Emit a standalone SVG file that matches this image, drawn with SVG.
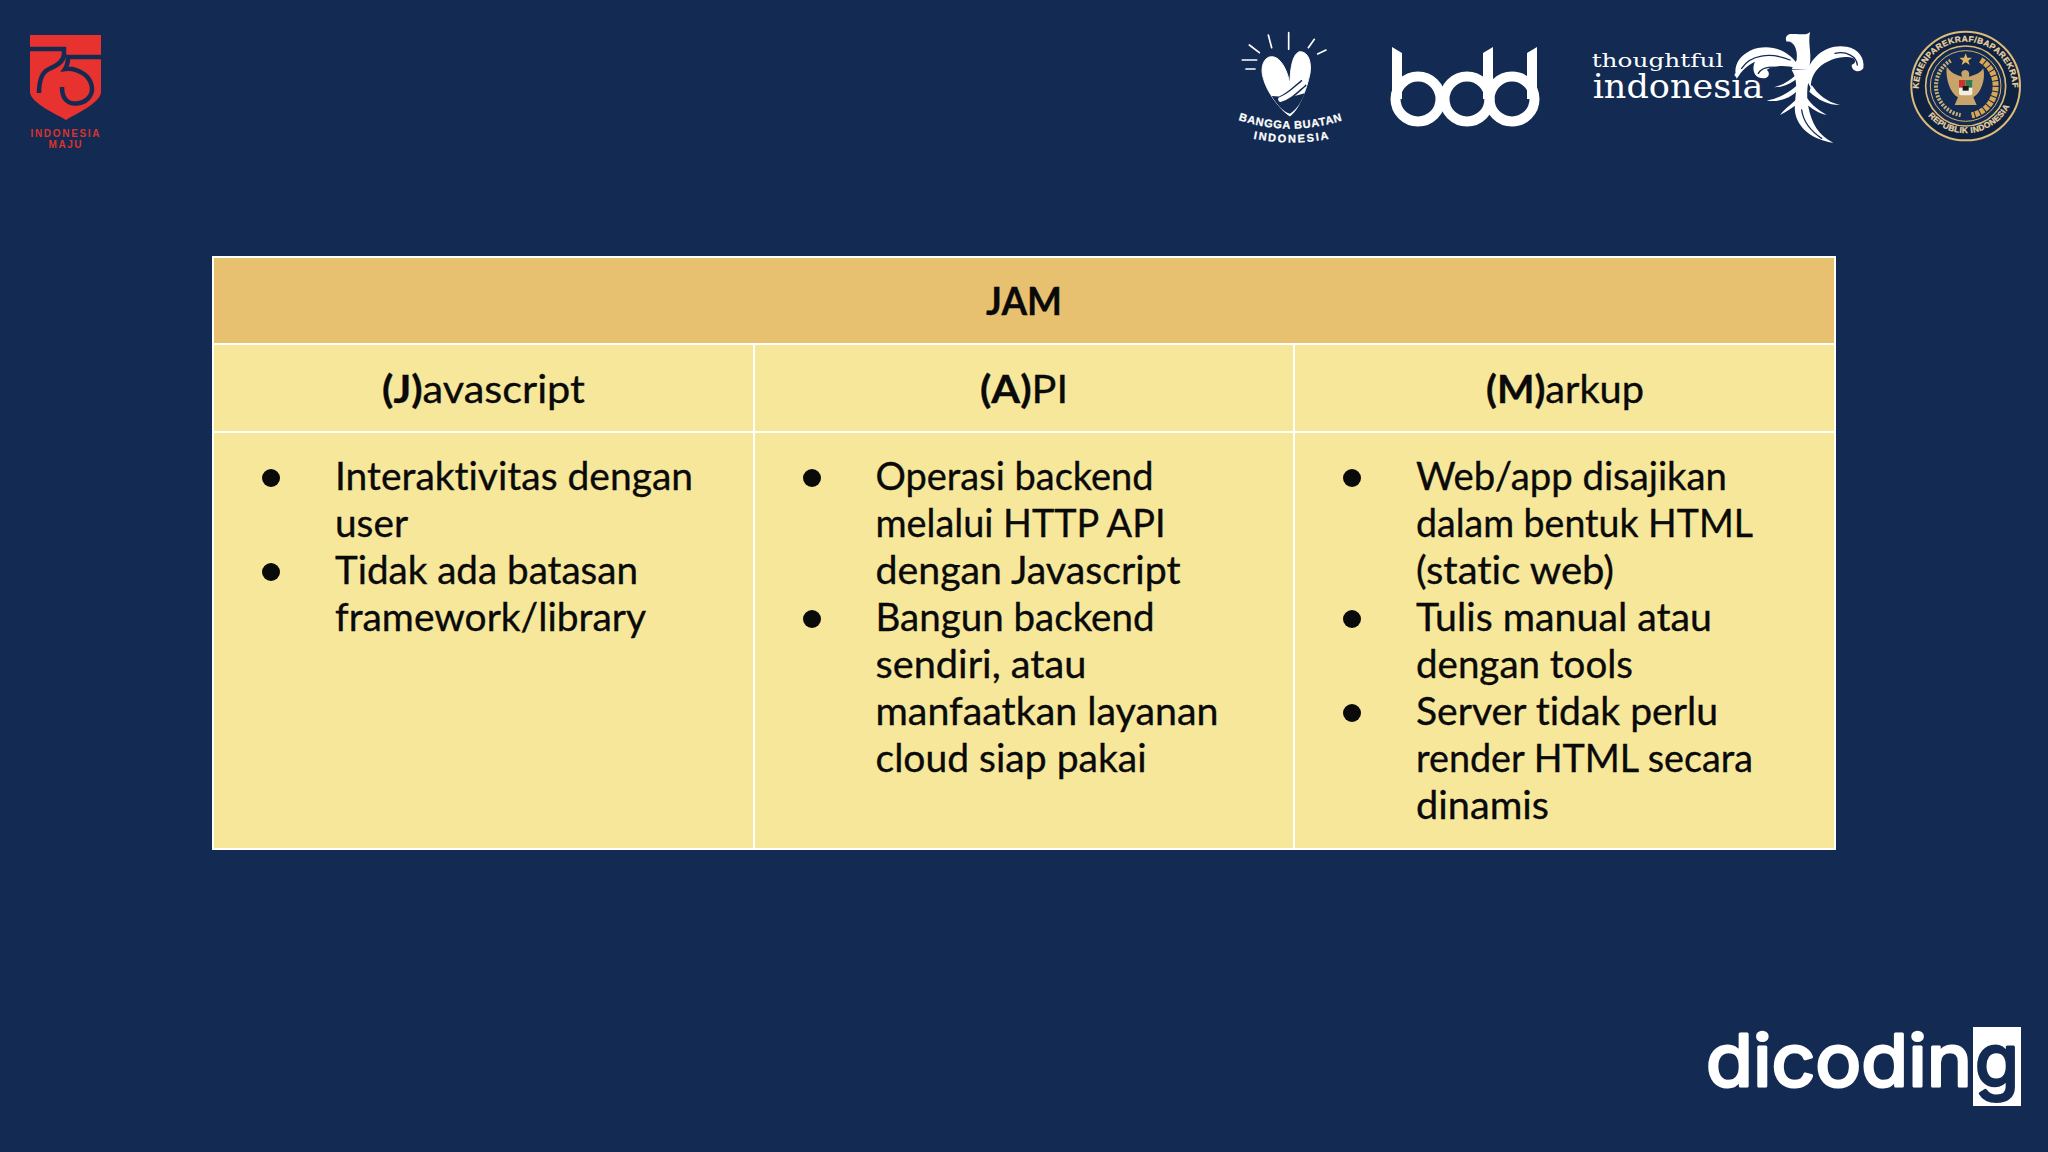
<svg xmlns="http://www.w3.org/2000/svg" xmlns:xlink="http://www.w3.org/1999/xlink" width="2048" height="1152" viewBox="0 0 2048 1152">
<style>
.t{font-family:"Lato","Liberation Sans",sans-serif;font-size:39px;fill:#0a0a0a;stroke:#0a0a0a;stroke-width:.35px;font-variant-ligatures:none}
.b{font-weight:700}
.c{text-anchor:middle}
.dot{fill:#0a0a0a}
.grid{stroke:#fff;stroke-width:2;fill:none}
.w{fill:#fff}
.ray{stroke:#fff;stroke-width:5;stroke-linecap:round;fill:none}
.logo{font-family:"Liberation Sans",sans-serif;font-weight:700}
.gold{fill:none;stroke:#d9b36c}
.dc{font-family:Inter,sans-serif;font-size:72px;stroke-width:3;stroke-linejoin:round}
</style>
<defs>
<path id="arcA" d="M85 330 Q240 382 402 330"/>
<path id="arcB" d="M130 386 Q245 409 358 386"/>
<path id="sealTop" d="M1046 236 A141 141 0 0 1 1328 236"/>
<path id="sealBot" d="M1053 283 A147 147 0 0 0 1321 283"/>
</defs>
<rect width="2048" height="1152" fill="#132A52"/>

<g id="logo-75">
<path d="M30 35H101V92C101 103 72 116 66 120C60 116 30 103 30 92Z" fill="#E8322F"/>
<path d="M30 49H64V54C64 62 56 66 49 69C42 72 39 79 39 93" fill="none" stroke="#132A52" stroke-width="4.500"/>
<path d="M101 57H68C68 62 67 66 65 69C72 68 78 70 84 74C92 80 94 90 90 96C85 104 72 106 66 100C62 96 62 91 62 87" fill="none" stroke="#132A52" stroke-width="4.500"/>
<text class="logo" x="65.500" y="137" text-anchor="middle" font-size="10" letter-spacing="1" fill="#D9332F" textLength="70">INDONESIA</text>
<text class="logo" x="65.500" y="147.500" text-anchor="middle" font-size="10" letter-spacing="1" fill="#D9332F" textLength="34">MAJU</text>
</g>

<g id="logo-bbi" transform="translate(1210 10) scale(.33333)">
<path class="ray" d="M175 75L185 113M236 68V118M313 88L295 113M348 120L323 132M118 105L148 128M97 150H140M108 177H135"/>
<path class="w" stroke="#fff" stroke-width="3" d="M240 225C235 190 215 140 185 140C160 140 150 175 160 205C170 245 210 300 240 318C265 300 290 240 300 190C305 155 295 125 270 125C250 128 240 170 240 225Z"/>
<path d="M185 258C202 288 225 308 240 311C256 301 272 283 284 250L240 262Z" fill="#132A52"/>
<path d="M212 270C235 262 248 248 282 218" fill="none" stroke="#132A52" stroke-width="24"/>
<path d="M212 268C235 262 250 246 280 220" fill="none" stroke="#fff" stroke-width="15" stroke-linecap="round"/>
<text class="logo" font-size="33" fill="#fff" stroke="#fff" stroke-width=".8"><textPath xlink:href="#arcA" href="#arcA" textLength="317">BANGGA BUATAN</textPath></text>
<text class="logo" font-size="33" fill="#fff" stroke="#fff" stroke-width=".8"><textPath xlink:href="#arcB" href="#arcB" textLength="228">INDONESIA</textPath></text>
</g>

<g id="logo-bdd" fill="none" stroke="#fff" stroke-width="10">
<circle cx="1418" cy="99" r="22.500"/>
<circle cx="1467" cy="99" r="22.500"/>
<circle cx="1512" cy="99" r="22.500"/>
<path d="M1392 47L1402 53V99H1392ZM1483 53L1493 47V99H1483ZM1527 53L1537 47V99H1527Z" fill="#fff" stroke="none"/>
</g>

<g id="logo-thoughtful" transform="translate(1570 10) scale(.33333)">
<text x="65" y="172" font-family="DejaVu Serif,serif" font-size="56" fill="#fff" textLength="395" lengthAdjust="spacingAndGlyphs">thoughtful</text>
<text x="68" y="265" font-family="DejaVu Serif,serif" font-size="100" fill="#fff" textLength="512" lengthAdjust="spacingAndGlyphs">indonesia</text>
<g class="w">
<path d="M680 160C650 115 590 100 540 122C505 140 488 170 500 207C515 180 535 165 555 155C545 175 550 205 580 205C600 205 600 185 590 180C610 165 650 165 680 175Z"/>
<path d="M720 65C712 78 690 70 660 72C648 75 645 85 650 95C665 90 685 110 680 150L665 178L715 180C730 140 712 105 720 65Z"/>
<path d="M705 200C720 140 770 100 830 110C865 115 885 145 880 175C870 190 845 185 845 165C855 160 860 155 850 145C825 135 775 145 745 175C725 195 715 230 730 250Z"/>
<path d="M665 180C690 220 672 260 675 305C682 355 730 390 790 398C745 375 725 340 715 290C708 250 712 215 725 180Z"/>
<path d="M590 272C630 265 660 245 682 225L682 242C660 265 625 277 590 272Z"/>
<path d="M630 315C650 290 670 280 685 262L685 280C665 295 650 305 630 315Z"/>
<path d="M612 232C640 225 660 210 678 195L678 208C660 222 640 232 612 232Z"/>
<path d="M810 285C770 275 745 255 725 225L718 245C745 270 775 285 810 285Z"/>
<path d="M770 315C745 300 725 285 712 265L708 282C725 295 745 310 770 315Z"/>
</g>
<path d="M515 175C540 135 600 125 660 150M565 190C575 172 600 170 615 172M695 300C700 335 725 365 755 385M795 130C830 122 860 140 862 165" fill="none" stroke="#132A52" stroke-width="4" stroke-linecap="round"/>
</g>

<g id="logo-seal" transform="translate(1570 10) scale(.33333)">
<circle cx="1187" cy="228" r="163" fill="#0F2140" stroke="#DDBB78" stroke-width="6"/>
<circle cx="1187" cy="228" r="120" fill="#132A52" stroke="#DDBB78" stroke-width="5"/>
<circle class="gold" cx="1187" cy="228" r="106" stroke-width="3"/>
<text class="logo" font-size="25" fill="#E8D3A2" stroke="#E8D3A2" stroke-width=".8"><textPath xlink:href="#sealTop" href="#sealTop" textLength="440">KEMENPAREKRAF/BAPAREKRAF</textPath></text>
<text class="logo" font-size="25" fill="#E8D3A2" stroke="#E8D3A2" stroke-width=".8"><textPath xlink:href="#sealBot" href="#sealBot" textLength="290" startOffset="12%">REPUBLIK INDONESIA</textPath></text>
<path d="M1142 152A88 88 0 0 0 1172 315" fill="none" stroke="#C9B277" stroke-width="12" stroke-dasharray="6 4"/>
<path d="M1232 150A90 90 0 0 1 1205 316" fill="none" stroke="#D9A654" stroke-width="18" stroke-dasharray="13 3"/>
<path d="M1187 130L1192 143H1206L1195 152L1199 165L1187 157L1175 165L1179 152L1168 143H1182Z" fill="#E2B864"/>
<path d="M1187 180C1200 182 1198 195 1197 200C1215 195 1230 190 1240 175C1248 210 1232 250 1210 262L1220 285H1154L1164 262C1142 250 1126 210 1130 170C1145 190 1160 195 1177 200C1172 190 1172 182 1187 180Z" fill="#C9A46A"/>
<rect x="1167" y="210" width="40" height="46" rx="6" fill="#F3EEE0"/>
<rect x="1167" y="210" width="20" height="23" fill="#C8352D"/>
<rect x="1187" y="210" width="20" height="23" fill="#2F7D4F"/>
<rect x="1178" y="228" width="18" height="14" fill="#1A1A1A"/>
</g>

<g id="table">
<rect x="213" y="256" width="1622" height="88" fill="#E7C170"/>
<rect x="213" y="344" width="1622" height="505" fill="#F6E79B"/>
<path class="grid" d="M213 257H1835V849H213ZM213 344H1835M213 432H1835M754 344V849M1294 344V849"/>
</g>

<g id="header">
<text class="t b c" x="1024" y="315" textLength="76" lengthAdjust="spacingAndGlyphs">JAM</text>
</g>

<g id="col-javascript">
<text class="t" x="382" y="403" textLength="203" lengthAdjust="spacingAndGlyphs"><tspan class="b">(J)</tspan>avascript</text>
<circle class="dot" cx="271" cy="478" r="9"/>
<circle class="dot" cx="271" cy="572" r="9"/>
<text class="t" x="335" y="490" textLength="358" lengthAdjust="spacingAndGlyphs">Interaktivitas dengan</text>
<text class="t" x="335" y="537" textLength="73" lengthAdjust="spacingAndGlyphs">user</text>
<text class="t" x="335" y="584" textLength="303" lengthAdjust="spacingAndGlyphs">Tidak ada batasan</text>
<text class="t" x="335" y="631" textLength="311" lengthAdjust="spacingAndGlyphs">framework/library</text>
</g>

<g id="col-api">
<text class="t" x="980" y="403" textLength="88" lengthAdjust="spacingAndGlyphs"><tspan class="b">(A)</tspan>PI</text>
<circle class="dot" cx="812" cy="478" r="9"/>
<circle class="dot" cx="812" cy="619" r="9"/>
<text class="t" x="875.500" y="490" textLength="278" lengthAdjust="spacingAndGlyphs">Operasi backend</text>
<text class="t" x="875.500" y="537" textLength="290" lengthAdjust="spacingAndGlyphs">melalui HTTP API</text>
<text class="t" x="875.500" y="584" textLength="305" lengthAdjust="spacingAndGlyphs">dengan Javascript</text>
<text class="t" x="875.500" y="631" textLength="279" lengthAdjust="spacingAndGlyphs">Bangun backend</text>
<text class="t" x="875.500" y="678" textLength="211" lengthAdjust="spacingAndGlyphs">sendiri, atau</text>
<text class="t" x="875.500" y="725" textLength="343" lengthAdjust="spacingAndGlyphs">manfaatkan layanan</text>
<text class="t" x="875.500" y="772" textLength="271" lengthAdjust="spacingAndGlyphs">cloud siap pakai</text>
</g>

<g id="col-markup">
<text class="t" x="1486" y="403" textLength="158" lengthAdjust="spacingAndGlyphs"><tspan class="b">(M)</tspan>arkup</text>
<circle class="dot" cx="1352" cy="478" r="9"/>
<circle class="dot" cx="1352" cy="619" r="9"/>
<circle class="dot" cx="1352" cy="713" r="9"/>
<text class="t" x="1416" y="490" textLength="311" lengthAdjust="spacingAndGlyphs">Web/app disajikan</text>
<text class="t" x="1416" y="537" textLength="337" lengthAdjust="spacingAndGlyphs">dalam bentuk HTML</text>
<text class="t" x="1416" y="584" textLength="198" lengthAdjust="spacingAndGlyphs">(static web)</text>
<text class="t" x="1416" y="631" textLength="296" lengthAdjust="spacingAndGlyphs">Tulis manual atau</text>
<text class="t" x="1416" y="678" textLength="217" lengthAdjust="spacingAndGlyphs">dengan tools</text>
<text class="t" x="1416" y="725" textLength="302" lengthAdjust="spacingAndGlyphs">Server tidak perlu</text>
<text class="t" x="1416" y="772" textLength="337" lengthAdjust="spacingAndGlyphs">render HTML secara</text>
<text class="t" x="1416" y="819" textLength="133" lengthAdjust="spacingAndGlyphs">dinamis</text>
</g>

<g id="logo-dicoding">
<rect x="1973" y="1027" width="48" height="79" fill="#fff"/>
<text class="dc" x="1706" y="1086" fill="#fff" stroke="#fff" textLength="266" lengthAdjust="spacingAndGlyphs">dicodin</text>
<text class="dc" x="1975" y="1086" fill="#132A52" stroke="#132A52" textLength="44" lengthAdjust="spacingAndGlyphs">g</text>
</g>
</svg>
